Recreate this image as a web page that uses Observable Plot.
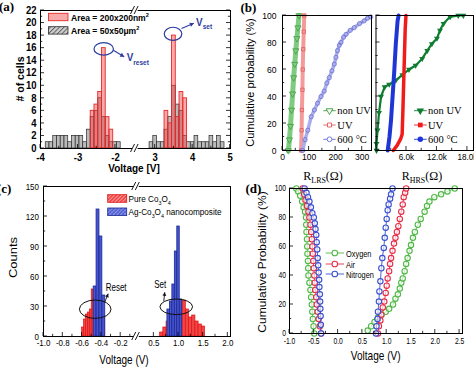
<!DOCTYPE html>
<html>
<head>
<meta charset="utf-8">
<script src="https://cdn.jsdelivr.net/npm/d3@7"></script>
<script src="https://cdn.jsdelivr.net/npm/@observablehq/plot@0.6"></script>
<style>
  html, body { margin: 0; padding: 0; background: #fff; }
  #wrap { position: relative; width: 474px; height: 368px; overflow: hidden; background: #fff; }
  #wrap > svg { position: absolute; overflow: visible; max-width: none; }
</style>
</head>
<body>
<svg width="0" height="0" style="position:absolute;left:0;top:0">
  <defs>
    <pattern id="hGray" width="3.2" height="3.2" patternUnits="userSpaceOnUse" patternTransform="rotate(45)">
      <rect width="3.2" height="3.2" fill="#d0d0d0"/>
      <line x1="0.5" y1="0" x2="0.5" y2="3.2" stroke="#555" stroke-width="0.9"/>
    </pattern>
    <pattern id="hRed" width="2.6" height="2.6" patternUnits="userSpaceOnUse" patternTransform="rotate(45)">
      <rect width="2.6" height="2.6" fill="#f04646"/>
      <line x1="0.5" y1="0" x2="0.5" y2="2.6" stroke="#ffc0c0" stroke-width="0.7"/>
    </pattern>
    <pattern id="hBlue" width="2.6" height="2.6" patternUnits="userSpaceOnUse" patternTransform="rotate(45)">
      <rect width="2.6" height="2.6" fill="#4656cf"/>
      <line x1="0.5" y1="0" x2="0.5" y2="2.6" stroke="#a9b2ee" stroke-width="0.7"/>
      <line x1="0" y1="0.5" x2="2.6" y2="0.5" stroke="#8893e2" stroke-width="0.5"/>
    </pattern>
  </defs>
</svg>
<div id="wrap"></div>
<script>
// ================= DATA =================
// (a) histogram of switching voltages (bin centres in V, counts)
const aGrayLeftV  = [-3.81,-3.71,-3.61,-3.51,-3.41,-3.31,-3.21,-3.11,-3.01,-2.91,-2.81,-2.71,-2.61,-2.51,-2.41,-2.31,-2.21,-2.11,-2.01,-1.91];
const aGrayLeftN  = [1,1,2,2,2,2,1,2,2,2,1,3,5,6,8,5,2,1,1,1];
const aRedLeftV   = [-2.61,-2.51,-2.41,-2.31,-2.21,-2.11];
const aRedLeftN   = [6,7,9,16,5,3];
const aGrayRightV = [2.9,3.0,3.1,3.2,3.3,3.4,3.5,3.6,3.7,3.8,3.9,4.0,4.1,4.2,4.3,4.4,4.5,4.6,4.7,4.8];
const aGrayRightN = [1,2,1,1,3,5,10,7,6,2,1,1,2,1,1,1,2,1,2,1];
const aRedRightV  = [3.3,3.4,3.5,3.6,3.7,3.8];
const aRedRightN  = [6,4,18,5,9,8];
const aBinWidth = 0.1;
const aXTicks = [-4,-3,-2,3,4,5];
const aXMinor = [-3.5,-2.5,3.5,4.5];
const aYTicks = [0,2,4,6,8,10,12,14,16,18,20,22];
const aYMinor = [1,3,5,7,9,11,13,15,17,19,21];
const aLegend = ["Area = 200x200nm", "Area = 50x50\u03bcm"];

// (b) cumulative probability of R_LRS (ohm) and R_HRS (ohm)
const bLNonUVR = [22,26,30,34,38,42,46,50,54,58,62];
const bLNonUVP = [0,8,18,30,42,54,64,74,83,91,100];
const bLUVR = [70,72,73,75,76,78,80,82];
const bLUVP = [0,15,30,45,60,75,88,100];
const bL600R = [76,85,95,108,120,132,145,157,167,176,186,195,201,207,214,220,230,239,255,270,290,307,320,332];
const bL600P = [0,8,15,25,30,35,40,44,50,54,59,64,69,74,78,80,84,86,89,91,94,96,98,99];
const bRNonUVR = [100,100,300,600,1000,1700,2600,3900,5200,6500,7800,9100,10100,11000,12000,12600,13300,14600,16200,17200];
const bRNonUVP = [0,5,15,28,40,47,49,52,56,60,63,68,74,79,83,89,94,99,100,100];
const bRUVR = [3400,4200,4900,5150,5300,5450,5600,5750,5900];
const bRUVP = [0,4,9,12,30,50,70,90,100];
const bR600R = [2300,2650,2950,3300,3600,3900,4250,4450];
const bR600P = [0,10,22,42,59,79,96,100];
const bLegend = ["non UV", "UV", "600 \u00b0C"];

// (c) histograms (bin centres in V, counts, bin widths)
const cRedLeftV  = [-0.59,-0.57,-0.55,-0.53,-0.51,-0.49,-0.47,-0.45,-0.43,-0.41,-0.39,-0.37];
const cRedLeftN  = [9,17,22,24,27,47,38,30,25,22,20,20];
const cRedLeftW  = 0.02;
const cRedRightV = [0.66,0.725,0.79,0.855,0.92,0.985,1.05,1.115,1.18,1.245,1.31,1.375,1.44,1.505];
const cRedRightN = [4,9,15,20,26,31,35,36,27,19,21,15,12,10];
const cRedRightW = 0.065;
const cBlueLeftV  = [-0.465,-0.435,-0.405,-0.375];
const cBlueLeftN  = [50,127,100,41];
const cBlueLeftW  = 0.03;
const cBlueRightV = [0.80,0.85,0.90,0.95,1.00,1.05];
const cBlueRightN = [27,35,52,85,110,37];
const cBlueRightW = 0.05;
const cXTicks = [-1,-0.8,-0.6,-0.4,-0.2,0.5,1,1.5,2];
const cXMinor = [-0.9,-0.7,-0.5,-0.3,-0.1,0.75,1.25,1.75];
const cYTicks = [0,30,60,90,120,150];
const cYMinor = [15,45,75,105,135];
const cLegend = [["Pure Co",{t:"3",sub:true},"O",{t:"4",sub:true}], ["Ag-Co",{t:"3",sub:true},"O",{t:"4",sub:true}," nanocomposite"]];

// (d) cumulative probability vs voltage
const dOxyLeftV = [-0.86,-0.82,-0.78,-0.74,-0.71,-0.68,-0.66,-0.655,-0.65,-0.64,-0.635,-0.63,-0.62,-0.615,-0.61,-0.59,-0.57,-0.555,-0.54,-0.53,-0.52,-0.505,-0.49];
const dOxyLeftP = [100,98,95,91,87,84,80,75,70,65,60,55,50,45,40,35,30,25,20,15,10,5,0];
const dAirLeftV = [-0.73,-0.70,-0.67,-0.64,-0.61,-0.59,-0.57,-0.555,-0.54,-0.53,-0.52,-0.51,-0.50,-0.49,-0.48,-0.47,-0.45,-0.44,-0.42,-0.40,-0.375,-0.35];
const dAirLeftP = [100,96,92,88,84,80,75,70,65,60,55,50,45,40,35,30,25,20,15,10,5,0];
const dNitLeftV = [-0.69,-0.65,-0.62,-0.59,-0.56,-0.53,-0.50,-0.48,-0.465,-0.45,-0.44,-0.43,-0.42,-0.41,-0.40,-0.39,-0.385,-0.375,-0.37,-0.365,-0.36,-0.355,-0.35];
const dNitLeftP = [100,97,94,91,87,83,80,76,72,68,63,58,52,47,42,37,32,27,22,17,12,6,0];
const dOxyRightV = [0.61,0.68,0.75,0.82,0.89,0.98,1.05,1.13,1.18,1.23,1.27,1.30,1.33,1.37,1.40,1.43,1.47,1.50,1.54,1.58,1.64,1.70,1.78,1.83,1.88,1.98,2.12,2.25,2.40];
const dOxyRightP = [2,5,8,11,13,15,17,20,24,27,31,35,38,43,48,52,57,61,66,70,75,79,84,88,91,94,96,98,100];
const dAirRightV = [0.82,0.84,0.87,0.89,0.92,0.95,0.98,1.00,1.02,1.05,1.07,1.09,1.12,1.15,1.18,1.21,1.24,1.27,1.30,1.33,1.35,1.38,1.40];
const dAirRightP = [0,5,9,13,18,22,28,33,38,43,48,52,57,62,66,70,74,79,84,89,94,97,100];
const dNitRightV = [0.78,0.79,0.81,0.82,0.84,0.85,0.87,0.89,0.91,0.94,0.96,0.98,1.00,1.02,1.04,1.07,1.09,1.12];
const dNitRightP = [0,5,10,15,22,29,36,45,52,59,66,73,79,85,89,93,96,100];
const dXTicks = [-1,-0.5,0,0.5,1,1.5,2,2.5];
const dXMinor = [-0.75,-0.25,0.25,0.75,1.25,1.75,2.25];
const dYTicks = [0,20,40,60,80,100];
const dYMinor = [10,30,50,70,90];
const dLegend = ["Oxygen", "Air", "Nitrogen"];

// ================= HELPERS =================
const SANS = "'Liberation Sans', Arial, Helvetica, sans-serif";
const SERIF = "'Liberation Serif', 'Times New Roman', Times, serif";
const wrap = document.getElementById("wrap");
const zip = (V, N, w) => V.map((v, i) => ({v, n: N[i], w}));
const xy = (X, Y) => X.map((x, i) => ({x, y: Y[i]}));
const fmt1 = v => (v < 0 ? "-" : "") + Math.abs(v).toFixed(1);

function mount(svg, left, top) {
  svg.style.position = "absolute"; svg.style.left = left + "px"; svg.style.top = top + "px";
  svg.style.overflow = "visible"; svg.style.maxWidth = "none";
  wrap.appendChild(svg); return d3.select(svg);
}
function lin(plot, k) { const s = plot.scale(k); return d3.scaleLinear().domain(s.domain).range(s.range); }
function squeeze(svg, k) {
  svg.querySelectorAll('g[aria-label$="tick label"] text').forEach(t => {
    let tr = t.getAttribute("transform") || "";
    const x = t.getAttribute("x");
    if (x != null && !isNaN(+x)) { tr += ` translate(${x},0)`; t.removeAttribute("x"); }
    t.setAttribute("transform", tr + ` scale(${k},1)`);
  });
}
function setFill(svg, label, fill) {
  svg.querySelectorAll(`g[aria-label="${label}"]`).forEach(g => {
    g.setAttribute("fill", fill);
    g.querySelectorAll("rect").forEach(r => r.removeAttribute("fill"));
  });
}
function label(sel, x, y, parts, o = {}) {
  const size = o.size || 11, sq = o.sq || 1;
  const tr = o.rotate ? `translate(${x},${y}) rotate(${o.rotate}) scale(${o.lsq || 1},${sq})`
                      : `translate(${x},${y}) scale(${sq},1)`;
  const t = sel.append("text").attr("transform", tr)
    .attr("font-family", o.font || SANS).attr("font-size", size)
    .attr("font-weight", o.weight || "normal").attr("fill", o.fill || "#000")
    .attr("text-anchor", o.anchor || "start");
  let shift = 0;
  for (const p of (Array.isArray(parts) ? parts : [parts])) {
    const s = typeof p === "string" ? {t: p} : p;
    const target = s.sub ? size * 0.32 : s.sup ? -size * 0.42 : 0;
    const ts = t.append("tspan").text(s.t);
    if (target - shift) ts.attr("dy", target - shift);
    if (s.sub || s.sup) ts.attr("font-size", size * 0.66);
    shift = target;
  }
  return t;
}
function arrow(sel, x1, y1, x2, y2, color, w = 1, head = 4) {
  sel.append("line").attr("x1", x1).attr("y1", y1).attr("x2", x2).attr("y2", y2)
    .attr("stroke", color).attr("stroke-width", w);
  const a = Math.atan2(y2 - y1, x2 - x1), h = head, s = head * 0.55;
  const p = [[x2, y2],
    [x2 - h * Math.cos(a) + s * Math.sin(a), y2 - h * Math.sin(a) - s * Math.cos(a)],
    [x2 - h * Math.cos(a) - s * Math.sin(a), y2 - h * Math.sin(a) + s * Math.cos(a)]];
  sel.append("path").attr("d", "M" + p.join("L") + "Z").attr("fill", color);
}
function ticksIn(sel, sx, sy, o) {
  const g = sel.append("g").attr("stroke", "#000").attr("stroke-width", 0.8);
  const [xa, xb] = sx.range(), [ya, yb] = sy.range();
  const xl = Math.min(xa, xb), xr = Math.max(xa, xb), yt = Math.min(ya, yb), ybm = Math.max(ya, yb);
  const L = o.len || 4, l = o.minorLen || 2.2;
  const seg = (x1, y1, x2, y2) => g.append("line").attr("x1", x1).attr("y1", y1).attr("x2", x2).attr("y2", y2);
  for (const [vals, len] of [[o.x || [], L], [o.xm || [], l]]) for (const v of vals) {
    const x = sx(v); seg(x, ybm, x, ybm - len); if (o.top) seg(x, yt, x, yt + len);
  }
  for (const [vals, len] of [[o.y || [], L], [o.ym || [], l]]) for (const v of vals) {
    const y = sy(v); if (o.left !== false) seg(xl, y, xl + len, y); if (o.right) seg(xr, y, xr - len, y);
  }
}
function axisBreak(sel, x, ys) {
  for (const y of ys) {
    sel.append("rect").attr("x", x - 2.8).attr("y", y - 2).attr("width", 5.6).attr("height", 4).attr("fill", "#fff");
    for (const dx of [-2.3, 1.3]) sel.append("line").attr("x1", x + dx - 2).attr("y1", y + 4)
      .attr("x2", x + dx + 2).attr("y2", y - 4).attr("stroke", "#000").attr("stroke-width", 0.9);
  }
}
function sym(sel, type, x, y, size, o) {
  sel.append("path").attr("d", d3.symbol(type, size)())
    .attr("transform", `translate(${x},${y})${o.rot ? ` rotate(${o.rot})` : ""}`)
    .attr("fill", o.fill).attr("stroke", o.stroke || "none").attr("stroke-width", o.sw || 0.9);
}
const tickMap = (vals, f, fmt) => { const m = new Map(vals.map(v => [f(v).toFixed(4), fmt(v)])); return u => m.get((+u).toFixed(4)) ?? ""; };

// ================= PANEL (a) =================
const ua = v => (v < 0 ? v : v - 3.94);
const aGray = zip(aGrayLeftV, aGrayLeftN, aBinWidth).concat(zip(aGrayRightV, aGrayRightN, aBinWidth));
const aRed = zip(aRedLeftV, aRedLeftN, aBinWidth).concat(zip(aRedRightV, aRedRightN, aBinWidth));
const A = Plot.plot({
  width: 240, height: 184, marginLeft: 40, marginRight: 10, marginTop: 10, marginBottom: 36,
  style: {fontFamily: SANS, fontSize: "10px", fontWeight: "bold", background: "transparent", color: "#000", overflow: "visible"},
  x: {domain: [-4, 1.07]}, y: {domain: [0, 22]},
  marks: [
    Plot.rectY(aGray, {x1: d => ua(d.v) - d.w / 2, x2: d => ua(d.v) + d.w / 2, y1: 0, y2: "n",
      fill: "#bbb", stroke: "#2a2a2a", strokeWidth: 0.7, ariaLabel: "grayBars"}),
    Plot.rectY(aRed, {x1: d => ua(d.v) - d.w / 2, x2: d => ua(d.v) + d.w / 2, y1: 0, y2: "n",
      fill: "#f04040", fillOpacity: 0.45, stroke: "#e52a2a", strokeWidth: 0.9}),
    Plot.axisY({ticks: aYTicks, tickSize: 0, tickPadding: 4, label: null}),
    Plot.axisX({ticks: aXTicks.map(ua), tickFormat: tickMap(aXTicks, ua, v => String(v)), tickSize: 0, tickPadding: 5, label: null}),
    Plot.frame({stroke: "#000", strokeWidth: 1})
  ]
});
setFill(A, "grayBars", "url(#hGray)");
squeeze(A, 0.95);
{
  const s = mount(A, 0, 0), sx = lin(A, "x"), sy = lin(A, "y");
  ticksIn(s, sx, sy, {x: aXTicks.map(ua), xm: aXMinor.map(ua), y: aYTicks, ym: aYMinor, right: true});
  axisBreak(s, sx((ua(-1.5) + ua(2.5)) / 2), [sy(22), sy(0)]);
  // legend
  s.append("rect").attr("x", 48.5).attr("y", 13.3).attr("width", 19.5).attr("height", 7.4)
    .attr("fill", "#f04040").attr("fill-opacity", 0.45).attr("stroke", "#e52a2a").attr("stroke-width", 0.9);
  s.append("rect").attr("x", 48.5).attr("y", 26.7).attr("width", 19.5).attr("height", 7.4)
    .attr("fill", "url(#hGray)").attr("stroke", "#2a2a2a").attr("stroke-width", 0.8);
  label(s, 71, 20.8, [aLegend[0], {t: "2", sup: true}], {size: 9.5, weight: "bold", sq: 0.9});
  label(s, 71, 34.2, [aLegend[1], {t: "2", sup: true}], {size: 9.5, weight: "bold", sq: 0.9});
  // annotations
  const blue = "#2e3c9e";
  let cx = sx(ua(-2.30)), cy = sy(15.8);
  s.append("ellipse").attr("cx", cx).attr("cy", cy).attr("rx", 9.7).attr("ry", 6.2).attr("fill", "none").attr("stroke", blue).attr("stroke-width", 1.2);
  arrow(s, cx + 9.6, cy + 1.4, cx + 20.5, cy + 7.9, blue, 1.1, 4);
  label(s, cx + 23, cy + 12.5, ["V", {t: "reset", sub: true}], {size: 11, weight: "bold", fill: blue, sq: 0.9});
  cx = sx(ua(3.49)); cy = sy(18.2);
  s.append("ellipse").attr("cx", cx).attr("cy", cy).attr("rx", 8.8).attr("ry", 6.6).attr("fill", "none").attr("stroke", blue).attr("stroke-width", 1.2);
  arrow(s, cx + 8.5, cy - 5.4, cx + 20.8, cy - 10.7, blue, 1.1, 4);
  label(s, cx + 23, cy - 8, ["V", {t: "set", sub: true}], {size: 11, weight: "bold", fill: blue, sq: 0.9});
  // titles
  label(s, 134, 172, "Voltage [V]", {size: 11.5, weight: "bold", anchor: "middle", sq: 0.87});
  label(s, 24, 79, "# of cells", {size: 10.5, weight: "bold", anchor: "middle", rotate: -90});
}

// ================= PANEL (b) =================
const bStyle = {fontFamily: SANS, fontSize: "9.5px", background: "transparent", color: "#000", overflow: "visible"};
const BL = Plot.plot({
  width: 140, height: 184, marginLeft: 48, marginRight: 3, marginTop: 15, marginBottom: 34,
  style: bStyle, x: {domain: [0, 335]}, y: {domain: [0, 100]},
  marks: [
    Plot.line(xy(bLNonUVR, bLNonUVP), {x: "x", y: "y", stroke: "#7fcb7f", strokeWidth: 5}),
    Plot.dot(xy(bLNonUVR, bLNonUVP), {x: "x", y: "y", symbol: "triangle", rotate: 180, r: 2.3, stroke: "#3d9d3d", fill: "none", strokeWidth: 0.8}),
    Plot.line(xy(bLUVR, bLUVP), {x: "x", y: "y", stroke: "#f49a9a", strokeWidth: 4}),
    Plot.dot(xy(bLUVR, bLUVP), {x: "x", y: "y", symbol: "square", r: 1.9, stroke: "#e35a5a", fill: "none", strokeWidth: 0.8}),
    Plot.line(xy(bL600R, bL600P), {x: "x", y: "y", stroke: "#aaaeea", strokeWidth: 3.5}),
    Plot.dot(xy(bL600R, bL600P), {x: "x", y: "y", r: 2.1, stroke: "#676cd2", fill: "none", strokeWidth: 0.8}),
    Plot.axisY({ticks: [0, 20, 40, 60, 80, 100], tickSize: 0, tickPadding: 6, label: null}),
    Plot.axisX({ticks: [0, 100, 200, 300], tickSize: 0, tickPadding: 3, label: null}),
    Plot.frame({stroke: "#000"})
  ]
});
squeeze(BL, 0.9);
{
  const s = mount(BL, 234, 0), sx = lin(BL, "x"), sy = lin(BL, "y");
  ticksIn(s, sx, sy, {x: [0, 100, 200, 300], xm: [50, 150, 250], y: [0, 20, 40, 60, 80, 100], ym: [10, 30, 50, 70, 90]});
  label(s, 19.5, 82.5, "Cumulative probability (%)", {size: 11, anchor: "middle", rotate: -90});
  label(s, 89, 179.5, ["R", {t: "LRS", sub: true}, "(\u03a9)"], {size: 12, font: SERIF, anchor: "middle"});
  const rows = [110.7, 125, 139.3];
  const cols = ["#3d9d3d", "#e35a5a", "#676cd2"];
  rows.forEach((y, i) => {
    s.append("line").attr("x1", 89.3).attr("x2", 101.7).attr("y1", y).attr("y2", y).attr("stroke", cols[i]).attr("stroke-width", 0.9);
    label(s, 103.3, y + 3.6, bLegend[i], {size: 10.5, font: SERIF});
  });
  sym(s, d3.symbolTriangle, 95.5, rows[0], 20, {fill: "#fff", stroke: cols[0], rot: 180});
  sym(s, d3.symbolSquare, 95.5, rows[1], 16, {fill: "#fff", stroke: cols[1]});
  sym(s, d3.symbolCircle, 95.5, rows[2], 18, {fill: "#fff", stroke: cols[2]});
}
const BR = Plot.plot({
  width: 100, height: 184, marginLeft: 1.5, marginRight: 1, marginTop: 15, marginBottom: 34,
  style: bStyle, x: {domain: [0, 19200]}, y: {domain: [0, 100], axis: null},
  marks: [
    Plot.line(xy(bRNonUVR, bRNonUVP), {x: "x", y: "y", stroke: "#0f7d30", strokeWidth: 2.2}),
    Plot.dot(xy(bRNonUVR, bRNonUVP), {x: "x", y: "y", symbol: "triangle", rotate: 180, r: 2.2, fill: "#0f7d30"}),
    Plot.line(xy(bRUVR, bRUVP), {x: "x", y: "y", stroke: "#f01c1c", strokeWidth: 3.5}),
    Plot.line(xy(bR600R, bR600P), {x: "x", y: "y", stroke: "#1f36d6", strokeWidth: 4}),
    Plot.axisX({ticks: [6000, 12000, 18000], tickFormat: d => (d / 1000).toFixed(1) + "k", tickSize: 0, tickPadding: 3, label: null}),
    Plot.frame({stroke: "#000"})
  ]
});
squeeze(BR, 0.86);
{
  const s = mount(BR, 374, 0), sx = lin(BR, "x"), sy = lin(BR, "y");
  ticksIn(s, sx, sy, {x: [6000, 12000, 18000], xm: [3000, 9000, 15000], y: [0, 20, 40, 60, 80, 100], ym: [10, 30, 50, 70, 90]});
  label(s, 48, 179.5, ["R", {t: "HRS", sub: true}, "(\u03a9)"], {size: 12, font: SERIF, anchor: "middle"});
  const rows = [110.7, 125, 139.3];
  const cols = ["#0f7d30", "#f01c1c", "#1f36d6"];
  rows.forEach((y, i) => {
    s.append("line").attr("x1", 40).attr("x2", 52.7).attr("y1", y).attr("y2", y).attr("stroke", cols[i]).attr("stroke-width", 0.9);
    label(s, 54, y + 3.6, bLegend[i], {size: 10.5, font: SERIF});
  });
  sym(s, d3.symbolTriangle, 46.3, rows[0], 24, {fill: cols[0], rot: 180});
  sym(s, d3.symbolSquare, 46.3, rows[1], 22, {fill: cols[1]});
  sym(s, d3.symbolCircle, 46.3, rows[2], 24, {fill: cols[2]});
}

// ================= PANEL (c) =================
const fC = v => (v < 0.1 ? v : -0.036 + (v - 0.148) * 0.511);
const cRed = zip(cRedLeftV, cRedLeftN, cRedLeftW).concat(zip(cRedRightV, cRedRightN, cRedRightW));
const cBlue = zip(cBlueLeftV, cBlueLeftN, cBlueLeftW).concat(zip(cBlueRightV, cBlueRightN, cBlueRightW));
const C = Plot.plot({
  width: 240, height: 184, marginLeft: 43, marginRight: 10, marginTop: 2, marginBottom: 32,
  style: {fontFamily: SANS, fontSize: "9.5px", background: "transparent", color: "#000", overflow: "visible"},
  x: {domain: [-1, 0.938]}, y: {domain: [0, 150]},
  marks: [
    Plot.rectY(cRed, {x1: d => fC(d.v - d.w / 2), x2: d => fC(d.v + d.w / 2), y1: 0, y2: "n",
      fill: "#f04646", stroke: "#e01010", strokeWidth: 0.7, ariaLabel: "redBars"}),
    Plot.rectY(cBlue, {x1: d => fC(d.v - d.w / 2), x2: d => fC(d.v + d.w / 2), y1: 0, y2: "n",
      fill: "#4656cf", stroke: "#1c2894", strokeWidth: 0.8, ariaLabel: "blueBars"}),
    Plot.axisY({ticks: cYTicks, tickSize: 0, tickPadding: 4.5, label: null}),
    Plot.axisX({ticks: cXTicks.map(fC), tickFormat: tickMap(cXTicks, fC, fmt1), tickSize: 0, tickPadding: 2.5, label: null}),
    Plot.frame({stroke: "#000"})
  ]
});
setFill(C, "redBars", "url(#hRed)");
setFill(C, "blueBars", "url(#hBlue)");
squeeze(C, 0.84);
{
  const s = mount(C, 0, 184), sx = lin(C, "x"), sy = lin(C, "y");
  ticksIn(s, sx, sy, {x: cXTicks.map(fC), xm: cXMinor.map(fC), y: cYTicks, ym: cYMinor});
  axisBreak(s, sx(fC(0.148)), [sy(150), sy(0)]);
  label(s, 17, 73.5, "Counts", {size: 13, anchor: "middle", rotate: -90, sq: 0.9});
  label(s, 124, 180, "Voltage (V)", {size: 12.5, anchor: "middle", sq: 0.8});
  // legend
  s.append("rect").attr("x", 107.7).attr("y", 10.7).attr("width", 19).attr("height", 7.6).attr("fill", "url(#hRed)").attr("stroke", "#e01010").attr("stroke-width", 0.8);
  s.append("rect").attr("x", 107.7).attr("y", 24).attr("width", 19).attr("height", 7.6).attr("fill", "url(#hBlue)").attr("stroke", "#1c2894").attr("stroke-width", 0.8);
  label(s, 128.5, 18, cLegend[0], {size: 9.5, sq: 0.86});
  label(s, 128.5, 31.4, cLegend[1], {size: 9.5, sq: 0.86});
  // annotations
  let cx = sx(fC(-0.459)), cy = sy(26.8);
  s.append("ellipse").attr("cx", cx).attr("cy", cy).attr("rx", 15.8).attr("ry", 9.2).attr("fill", "none").attr("stroke", "#111").attr("stroke-width", 1);
  arrow(s, cx + 9.5, cy - 7, cx + 13, cy - 15.5, "#111", 0.9, 3.5);
  label(s, cx + 10.5, cy - 17.8, "Reset", {size: 10, sq: 0.8});
  cx = sx(fC(0.964)); cy = sy(29.2);
  s.append("ellipse").attr("cx", cx).attr("cy", cy).attr("rx", 16.3).attr("ry", 7.8).attr("fill", "none").attr("stroke", "#111").attr("stroke-width", 1);
  arrow(s, cx - 12.5, cy - 5.5, cx - 11.5, cy - 14.5, "#111", 0.9, 3.5);
  label(s, cx - 22, cy - 19.3, "Set", {size: 10, sq: 0.8});
}

// ================= PANEL (d) =================
const dCols = ["#4fb845", "#e82d48", "#3a50cf"];
const dSeries = [
  [xy(dOxyLeftV, dOxyLeftP), xy(dOxyRightV, dOxyRightP)],
  [xy(dAirLeftV, dAirLeftP), xy(dAirRightV, dAirRightP)],
  [xy(dNitLeftV, dNitLeftP), xy(dNitRightV, dNitRightP)]
];
const dMarks = [];
dSeries.forEach((pair, i) => pair.forEach(data => {
  dMarks.push(Plot.line(data, {x: "x", y: "y", stroke: dCols[i], strokeWidth: 0.9}));
  dMarks.push(Plot.dot(data, {x: "x", y: "y", r: 2.7, stroke: dCols[i], fill: "#fff", fillOpacity: 0.6, strokeWidth: 1.1}));
}));
const D = Plot.plot({
  width: 240, height: 184, marginLeft: 55, marginRight: 12, marginTop: 4, marginBottom: 35,
  style: {fontFamily: SANS, fontSize: "9px", background: "transparent", color: "#000", overflow: "visible"},
  x: {domain: [-1, 2.56]}, y: {domain: [0, 100]},
  marks: [
    ...dMarks,
    Plot.axisY({ticks: dYTicks, tickSize: 0, tickPadding: 3.5, label: null}),
    Plot.axisX({ticks: dXTicks, tickFormat: fmt1, tickSize: 0, tickPadding: 4.5, label: null}),
    Plot.frame({stroke: "#000"})
  ]
});
squeeze(D, 0.75);
{
  const s = mount(D, 234, 184), sx = lin(D, "x"), sy = lin(D, "y");
  ticksIn(s, sx, sy, {x: dXTicks, xm: dXMinor, y: dYTicks, ym: dYMinor});
  label(s, 31.5, 78, "Cumulative Probability (%)", {size: 12, anchor: "middle", rotate: -90, sq: 0.9});
  label(s, 141.7, 176, "Voltage (V)", {size: 12, anchor: "middle", sq: 0.84});
  const rows = [69, 80, 90];
  rows.forEach((y, i) => {
    s.append("line").attr("x1", 91.7).attr("x2", 110).attr("y1", y).attr("y2", y).attr("stroke", dCols[i]).attr("stroke-width", 0.9);
    s.append("circle").attr("cx", 100.8).attr("cy", y).attr("r", 2.8).attr("fill", "#fff").attr("stroke", dCols[i]).attr("stroke-width", 1.1);
    label(s, 112, y + 3.5, dLegend[i], {size: 9.5, sq: 0.78});
  });
}

// ================= panel letters =================
{
  const ov = d3.select(wrap).append("svg").attr("width", 474).attr("height", 368).style("left", "0px").style("top", "0px").style("pointer-events", "none");
  const o = {size: 13, weight: "bold", font: SERIF};
  label(ov, -1, 11, "(a)", o);
  label(ov, 240.5, 12, "(b)", o);
  label(ov, -3, 193, "(c)", o);
  label(ov, 245.5, 193, "(d)", o);
}
</script>
</body>
</html>
